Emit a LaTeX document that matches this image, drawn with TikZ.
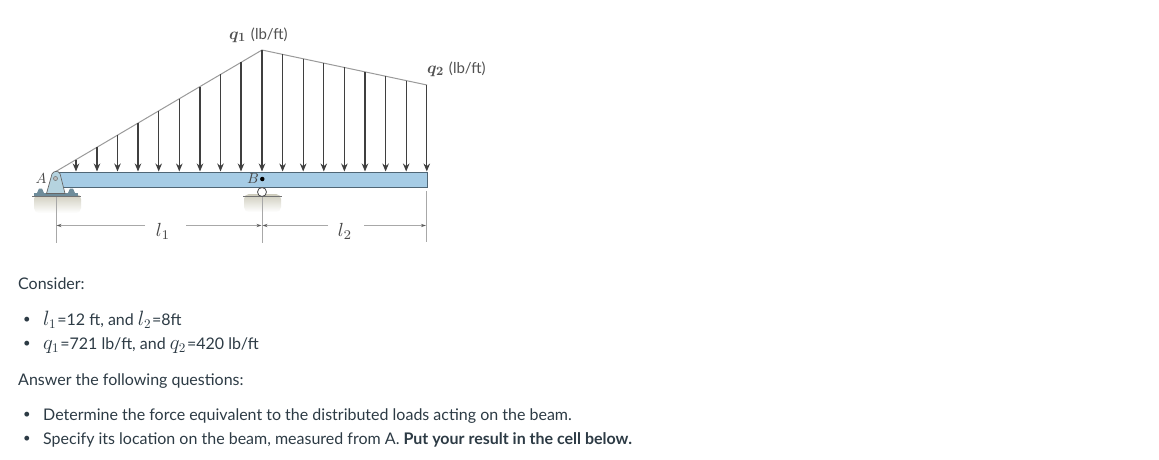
\documentclass[tikz,border=0pt]{standalone}
\usepackage{fontspec}
\setmainfont{Lato}
\usepackage{graphicx}
\usetikzlibrary{arrows.meta}
\definecolor{txt}{HTML}{2D3B45}
\definecolor{beamc}{HTML}{A6CCE5}
\definecolor{beamb}{HTML}{4F6675}
\definecolor{loadc}{HTML}{9A9A9A}
\definecolor{arrc}{HTML}{3F3F3F}
\definecolor{dimc}{HTML}{A8A8A8}
\definecolor{gnd}{HTML}{CDCBBB}
\definecolor{supc}{HTML}{B5D3DF}
\definecolor{plate}{HTML}{6E8C9A}
\newcommand{\mth}[2]{\scalebox{#1}{$#2$}}
\tikzset{
 para/.style={anchor=base west,inner sep=0pt,text=txt,font=\fontsize{16}{19}\selectfont},
 bul/.style={anchor=base,inner sep=0pt,text=txt,font=\fontsize{13}{19}\selectfont},
 fig/.style={inner sep=0pt,text=black!72},
 figlab/.style={anchor=base west,inner sep=0pt,text=black!68,font=\fontsize{15}{16}\selectfont},
 loadarrow/.style={draw=arrc,line width=1.2pt,-{Stealth[length=8pt,width=6.5pt]}},
 dimline/.style={draw=dimc,line width=0.8pt,-{Stealth[length=5pt,width=3.2pt,color=black!65]}},
 extline/.style={draw=dimc,line width=0.9pt},
 groundshade/.style={top color=gnd,bottom color=white,draw=none,rounded corners=5pt},
 groundline/.style={draw=black!55,line width=0.9pt},
}
\begin{document}
\begin{tikzpicture}[x=1pt,y=-1pt]
\useasboundingbox (0,0) rectangle (1159,459);
\fill[white] (0,0) rectangle (1159,459);
% ground shading
\shade[groundshade] (34,194) rectangle (81,213);
\shade[groundshade] (244,194) rectangle (281,212);
% beam
\node[draw=beamb,line width=1pt,fill=beamc,minimum width=372pt,minimum height=15pt,inner sep=0pt,anchor=north west] (beam) at (55,172) {};
% load outline
\coordinate (LA) at (55,172);
\coordinate (LP) at (262,50);
\coordinate (LR) at (427,85);
\draw[loadc,line width=1pt] (LA) -- (LP) -- (LR);
% load arrows
\foreach \i/\xx in {1/76,2/97,3/117.5,4/138,5/158.7,6/179.3,7/200,8/220.5,9/241}{
  \pgfmathsetmacro{\yy}{172-(\xx-55)*0.58937}
  \coordinate (t\i) at (\xx,\yy);
  \coordinate (b\i) at (\xx,171.5);
  \draw[loadarrow] (t\i) -- (b\i);
}
\foreach \i/\xx in {10/262,11/282.6,12/303.2,13/323.8,14/344.4,15/365,16/385.6,17/406.2,18/426.8}{
  \pgfmathsetmacro{\yy}{50+(\xx-262)*0.21212}
  \coordinate (t\i) at (\xx,\yy);
  \coordinate (b\i) at (\xx,171.5);
  \draw[loadarrow] (t\i) -- (b\i);
}
% support A
\fill[plate] (34,193) rectangle (78,197);
\fill[plate] (37,193) -- (39,188.5) -- (42,188.5) -- (44,193) -- cycle;
\fill[plate] (68,193) -- (70,188.5) -- (73,188.5) -- (75,193) -- cycle;
\draw[draw=black!60,fill=supc,line width=0.7pt] (46.5,193.5) -- (52,174) .. controls (54,170.5) and (58,170.5) .. (60,173.5) -- (65,193.5) -- cycle;
\node[draw=black!55,fill=black!25,circle,minimum size=4pt,inner sep=0pt,line width=0.6pt] (pinA) at (55.5,178.5) {};
\draw[groundline] (32,196.8) -- (81,196.8);
\node[fig] (labA) at (41,178.5) {\mth{1.45}{A}};
% support B
\draw[groundline] (243,196.5) -- (282,196.5);
\node[draw=black!70,fill=white,circle,minimum size=9pt,inner sep=0pt,line width=0.8pt] (rollB) at (262,192) {};
\node[fill=black,circle,minimum size=4.5pt,inner sep=0pt] (dotB) at (262.3,179) {};
\node[fig] (labB) at (253,178.5) {\mth{1.45}{B}};
% extension lines
\coordinate (eA1) at (56,197); \coordinate (eA2) at (56,243);
\coordinate (eB1) at (262,197); \coordinate (eB2) at (262,243);
\coordinate (eC1) at (426.5,191); \coordinate (eC2) at (426.5,242);
\draw[extline] (eA1) -- (eA2);
\draw[extline] (eB1) -- (eB2);
\draw[extline] (eC1) -- (eC2);
% dimensions
\node[fig] (l1) at (163,231) {\mth{1.9}{l_1}};
\node[fig] (l2) at (345,231) {\mth{1.9}{l_2}};
\coordinate (dA) at (56.5,225.5); \coordinate (dB1) at (261.5,225.5);
\coordinate (dB2) at (262.5,225.5); \coordinate (dC) at (426,225.5);
\coordinate (g1a) at (145,225.5); \coordinate (g1b) at (186,225.5);
\coordinate (g2a) at (328,225.5); \coordinate (g2b) at (364,225.5);
\draw[dimline] (g1a) -- (dA);
\draw[dimline] (g1b) -- (dB1);
\draw[dimline] (g2a) -- (dB2);
\draw[dimline] (g2b) -- (dC);
% load labels
\node[figlab] (q1) at (229,39) {{\boldmath\mth{1.15}{q_1}}\hspace{5pt}(lb/ft)};
\node[figlab] (q2) at (427,73) {{\boldmath\mth{1.15}{q_2}}\hspace{5pt}(lb/ft)};
% text
\node[para] (t1) at (18,289) {Consider:};
\node[bul] (b1) at (27,323.5) {\textbullet};
\node[para] (t2) at (43,325) {\mth{1.2}{l_1}\hspace{1pt}=12 ft, and \mth{1.2}{l_2}\hspace{1pt}=8ft};
\node[bul] (b2) at (27,347.5) {\textbullet};
\node[para] (t3) at (43,349) {\mth{1.2}{q_1}\hspace{1pt}=721 lb/ft, and \mth{1.2}{q_2}\hspace{1pt}=420 lb/ft};
\node[para] (t4) at (18,385) {Answer the following questions:};
\node[bul] (b3) at (27,418.5) {\textbullet};
\node[para] (t5) at (43,420) {Determine the force equivalent to the distributed loads acting on the beam.};
\node[bul] (b4) at (27,442.5) {\textbullet};
\node[para] (t6) at (43,444) {Specify its location on the beam, measured from A. \textbf{Put your result in the cell below.}};
\end{tikzpicture}
\end{document}
